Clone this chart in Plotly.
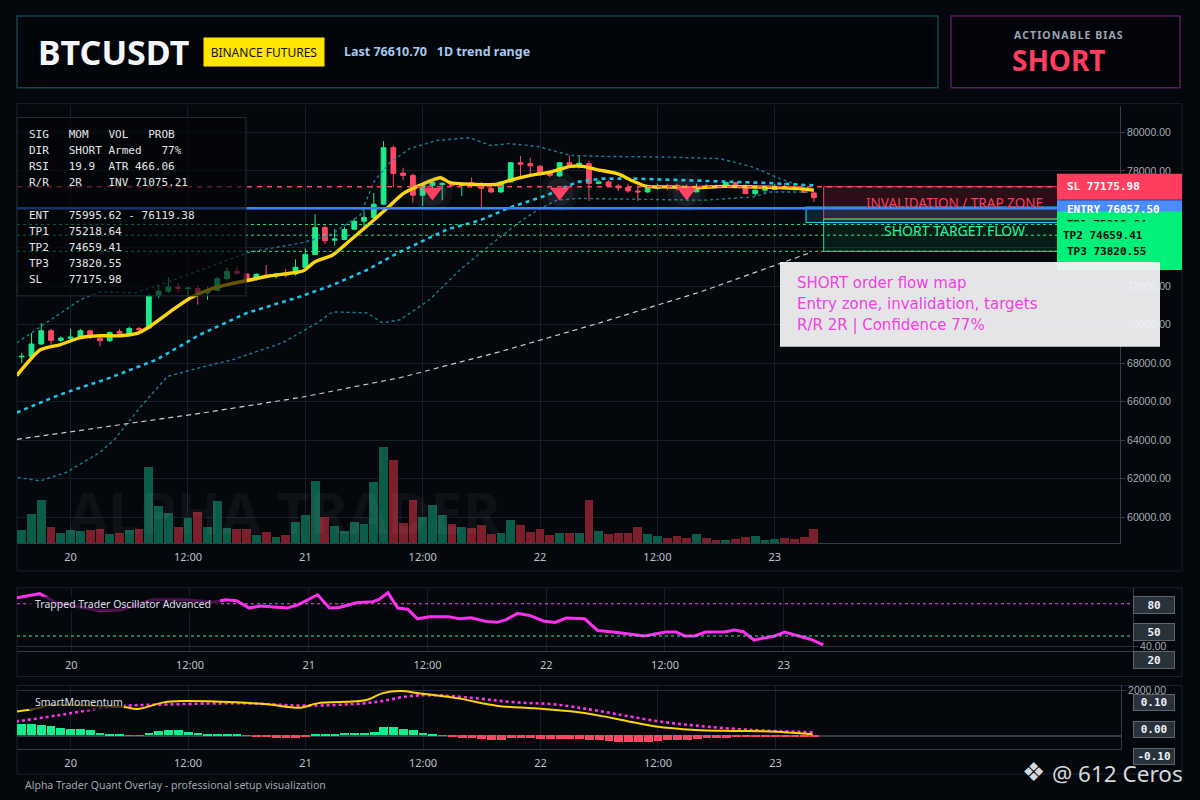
import plotly.graph_objects as go

# ---------------- data ----------------
# hourly candles, x = hours counted from the 20th 00:00
bar_hours = list(range(-5, 77))

opens = [68330, 68360, 69000, 69690, 69190, 69300, 69360, 69690, 69300, 69170,
         69650, 69430, 69810, 69830, 71530, 71750, 71960, 71890, 71890, 71650,
         71780, 72400, 72780, 72640, 72400, 72580, 72530, 72640, 72640, 72990,
         73660, 75060, 74400, 74440, 74970, 75390, 75580, 76270, 79210, 77890,
         77770, 76740, 77250, 77300, 77340, 77240, 77390, 77340, 77090, 76910,
         77430, 78430, 78380, 78250, 77900, 77740, 78430, 78330, 78380, 77350,
         77430, 77220, 77140, 76960, 76910, 77090, 77180, 77250, 77150, 76910,
         77210, 77220, 77260, 77390, 77250, 76820, 77000, 77040, 77170, 77170,
         77030, 76860]
highs = [68550, 69570, 70090, 69780, 69400, 69780, 69780, 69750, 69350, 69650,
         69780, 69900, 69900, 71640, 72060, 72470, 72160, 71960, 72060, 71990,
         72510, 72990, 73040, 72680, 72680, 73110, 72710, 72900, 73400, 73970,
         75750, 75170, 74990, 75100, 75530, 75960, 76850, 79550, 79330, 78170,
         77860, 77340, 77600, 77430, 77430, 77430, 77660, 77430, 77200, 77480,
         78470, 78780, 78690, 78300, 77990, 78470, 78810, 78760, 78520, 77520,
         77520, 77310, 77340, 77250, 77250, 77340, 77340, 77340, 77300, 77340,
         77340, 77300, 77430, 77430, 77300, 77090, 77170, 77340, 77380, 77250,
         77090, 76900]
lows = [68030, 68300, 68950, 68960, 69100, 69250, 69260, 69260, 68880, 69100,
        69500, 69400, 69660, 69800, 71400, 71640, 71700, 71470, 71050, 71300,
        71780, 72300, 72620, 72250, 72300, 72500, 72400, 72450, 72560, 72990,
        73660, 74200, 74130, 74400, 74920, 74900, 75530, 76220, 77170, 77510,
        76340, 76170, 77100, 76480, 77200, 76700, 77130, 76040, 76830, 76850,
        77390, 77730, 77780, 77730, 77680, 77680, 78200, 78130, 76440, 77300,
        77170, 76960, 76870, 76440, 76870, 77030, 77000, 76960, 76950, 76910,
        77130, 77150, 77200, 77170, 76820, 76700, 76820, 77000, 77140, 76990,
        76860, 76390]
closes = [68360, 69000, 69690, 69190, 69310, 69360, 69690, 69480, 69170, 69600,
          69560, 69810, 69760, 71500, 71750, 71960, 71890, 71910, 71650, 71780,
          72400, 72780, 72680, 72330, 72630, 72560, 72640, 72600, 72990, 73660,
          75060, 74370, 74460, 74960, 75390, 75580, 76270, 79210, 77870, 77770,
          76740, 77250, 77400, 77340, 77240, 77340, 77250, 77090, 76910, 77430,
          78430, 78350, 78270, 77820, 77770, 78430, 78330, 78400, 77350, 77430,
          77220, 77120, 76960, 76910, 77090, 77160, 77160, 77090, 77090, 77200,
          77200, 77210, 77390, 77290, 76820, 77000, 77040, 77160, 77160, 77040,
          76880, 76610]
volumes = [1300, 2900, 4400, 1670, 1000, 1300, 1200, 1300, 1400, 900,
           1000, 1300, 1400, 7700, 3700, 3000, 1670, 2500, 3100, 1670,
           4300, 1570, 1400, 1400, 800, 1100, 600, 800, 2100, 2800,
           6300, 2600, 1700, 1200, 2100, 1900, 6200, 9700, 8400, 2000,
           4400, 2600, 3900, 2800, 1900, 1600, 1500, 1800, 900, 1000,
           2300, 1800, 1100, 1400, 800, 1000, 1000, 1000, 4400, 1200,
           900, 1000, 1000, 1600, 900, 700, 500, 700, 500, 900,
           500, 300, 300, 400, 600, 700, 300, 400, 500, 400,
           600, 1400]

ema_hours = [-5.5, -3.1, -1.1, 1.0, 3.0, 5.0, 6.9, 8.1, 10.2, 12.2, 14.3, 16.3, 18.3,
             20.4, 22.4, 23.8, 25.0, 26.8, 28.6, 30.6, 32.7, 34.0, 35.7, 37.8, 38.8,
             40.8, 43.6, 44.9, 47.0, 49.0, 51.1, 52.4, 53.8, 55.9, 57.5, 58.9, 61.3,
             64.0, 66.7, 69.8, 72.9, 74.6, 76.0]
ema_fast = [67360, 68700, 68960, 69330, 69430, 69430, 69570, 69910, 70690, 71380,
            71850, 72120, 72330, 72550, 72680, 72810, 73280, 73630, 74400, 75270,
            76220, 76820, 77250, 77650, 77390, 77310, 77310, 77510, 77770, 77940,
            78240, 78240, 78070, 77860, 77480, 77200, 77170, 77130, 77200, 77170,
            77130, 77080, 77000]

mid_hours = [-5.5, -1.1, 4.0, 8.8, 13.2, 18.0, 23.5, 26.8, 30.3, 33.7, 38.5, 41.9,
             44.9, 48.7, 51.8, 54.4, 57.9, 61.3, 64.7, 68.1, 71.5, 76.0]
ema_mid = [65440, 66370, 67240, 68190, 69480, 70610, 71470, 72070, 72850, 73800,
           74960, 75440, 76100, 76740, 77430, 77600, 77600, 77550, 77480, 77430,
           77370, 77250]

slow_hours = [-5.5, 3.0, 13.2, 23.5, 33.7, 43.9, 54.1, 64.4, 72.5, 75.8]
ema_slow = [64040, 64660, 65390, 66220, 67250, 68600, 70100, 71710, 73160, 73780]

bbu_hours = [-5.5, -2.1, 1.0, 3.0, 6.6, 9.1, 13.2, 18.3, 23.5, 26.5, 29.6, 31.1, 32.7,
             34.7, 37.5, 40.8, 42.9, 44.9, 47.7, 51.1, 54.4, 61.3, 66.4, 69.8, 72.5, 75.6]
bb_upper = [69070, 70260, 71300, 71710, 71660, 72070, 72850, 73780, 74250, 74660,
            75700, 77510, 78460, 79170, 79590, 79730, 79330, 79420, 79280, 78810,
            78760, 78720, 78640, 78200, 77600, 77080]
bbl_hours = [-5.4, -3.1, -0.4, 3.0, 4.5, 7.1, 9.9, 13.2, 16.6, 21.7, 25.2, 26.8, 30.3,
             31.9, 33.7, 36.7, 39.8, 42.9, 45.9, 47.7, 49.7, 51.8, 57.9, 64.7, 69.8,
             71.5, 75.6]
bb_lower = [62060, 61880, 62330, 63370, 64040, 65700, 67310, 67770, 68190, 69070,
            70100, 70670, 70620, 70100, 70260, 71300, 72850, 74150, 75340, 75960,
            76480, 76570, 76530, 76480, 76650, 76910, 76910]

signal_hours = [37, 50, 63]
signal_prices = [76910, 76910, 76910]

osc_hours = [-5.5, -3.2, -1.5, 2.9, 5.1, 8.2, 11.4, 14.4, 15.6, 16.7, 18.0, 19.1,
             21.8, 22.9, 24.9, 26.1, 27.1, 28.8, 30.5, 31.1, 32.0, 33.0, 34.0, 35.0,
             36.2, 38.1, 39.2, 40.4, 41.9, 43.0, 43.9, 45.1, 46.4, 47.7, 48.9, 50.0,
             51.9, 53.2, 55.0, 57.9, 60.1, 61.1, 62.0, 63.0, 64.1, 66.0, 67.0, 67.9,
             69.0, 71.1, 72.1, 74.7, 76.0]
osc_values = [85.6, 89.4, 81.0, 73.4, 74.4, 83.7, 83.7, 81.6, 83.7, 82.8, 76.0, 78.0,
              76.0, 79.0, 88.4, 76.0, 76.5, 81.0, 82.0, 84.0, 90.3, 76.0, 75.0, 66.0,
              68.0, 68.0, 66.0, 67.0, 63.6, 62.7, 65.0, 71.0, 69.0, 64.0, 62.6, 66.7,
              66.0, 55.0, 53.5, 50.0, 53.7, 53.7, 50.0, 50.0, 53.7, 53.7, 55.6, 54.0,
              46.2, 50.0, 53.7, 47.0, 41.6]
osc_levels = [80, 50, 20]

hist_values = [0.039, 0.039, 0.036, 0.033, 0.027, 0.024, 0.024, 0.017, 0.008, 0.005,
               0.001, -0.001, -0.001, 0.008, 0.015, 0.017, 0.017, 0.012, 0.008, 0.005,
               0.005, 0.005, 0.005, -0.003, -0.004, -0.007, -0.010, -0.010, -0.010, -0.006,
               0.005, 0.005, 0.005, 0.008, 0.008, 0.008, 0.012, 0.029, 0.029, 0.024,
               0.017, 0.008, 0.005, -0.003, -0.006, -0.010, -0.012, -0.016, -0.019, -0.019,
               -0.012, -0.012, -0.010, -0.013, -0.016, -0.013, -0.013, -0.013, -0.019, -0.019,
               -0.022, -0.024, -0.024, -0.024, -0.024, -0.022, -0.019, -0.017, -0.017, -0.015,
               -0.012, -0.012, -0.010, -0.008, -0.007, -0.007, -0.007, -0.007, -0.005, -0.005,
               -0.005, -0.005]
mom_hours = [-5.6, -3.4, -2.2, 0.9, 5.6, 6.8, 9.5, 11.5, 16.9, 20.1, 23.5, 25.2, 30.2,
             31.8, 33.7, 35.7, 39.6, 43.5, 47.4, 51.3, 54.0, 56.3, 59.8, 63.8, 67.7,
             71.5, 75.8]
mom_values = [1060, 1205, 1351, 1338, 1250, 1174, 1470, 1528, 1470, 1382, 1236, 1426,
              1572, 1868, 1969, 1868, 1647, 1325, 1205, 1060, 883, 689, 397, 247, 203,
              177, 57]
sig_hours = [-5.6, -1.5, 4.4, 10.3, 18.1, 23.9, 29.9, 31.8, 34.2, 36.8, 41.5, 45.5,
             49.4, 54.0, 59.8, 63.8, 69.6, 75.8]
sig_values = [618, 883, 1280, 1382, 1426, 1325, 1426, 1528, 1722, 1793, 1647, 1470,
              1382, 1086, 645, 442, 247, 146]
hist_levels = ["0.10", "0.00", "-0.10"]

tick_hours = [0, 12, 24, 36, 48, 60, 72]
tick_labels = ["20", "12:00", "21", "12:00", "22", "12:00", "23"]
price_ticks = [60000, 62000, 64000, 66000, 68000, 70000, 72000, 74000, 76000, 78000, 80000]
# these two labels sit under the SL/entry/TP tags on the right
hidden_price_ticks = [74000, 76000]

symbol = "BTCUSDT"
venue = "BINANCE FUTURES"
last_price = 76610.70
direction = "SHORT"
vol_state = "Armed"
prob = 77
rsi = 19.9
atr = 466.06
rr = "2R"
inv = 71075.21
sl = 77175.98
entry = 76057.50
entry_low, entry_high = 75995.62, 76119.38
tp1, tp2, tp3 = 75218.64, 74659.41, 73820.55
zone_split = 75500
entry_box_low = 75320
entry_box_start = 75.2
zone_start, zone_end = 77, 101

# ---------------- styling ----------------
W, H = 1200, 800
BG = "#04070b"
GRID = "#161f29"
AXIS = "#323d48"
TICK = "#a3abb5"
GREEN = "#1de98b"
RED = "#ff4a64"
SANS = "Noto Sans"
MONO = "DejaVu Sans Mono"
x_range = [-5.48, 107.3]


def px(x):
    return x / W


def py(y):
    return 1 - y / H


fig = go.Figure()

# bands and averages
fig.add_trace(go.Scatter(x=bbu_hours, y=bb_upper, mode="lines",
                         line=dict(color="#1b7d96", width=1.4, dash="dot")))
fig.add_trace(go.Scatter(x=bbl_hours, y=bb_lower, mode="lines",
                         line=dict(color="#1b7d96", width=1.4, dash="dot")))
fig.add_trace(go.Scatter(x=slow_hours, y=ema_slow, mode="lines",
                         line=dict(color="#c9ced4", width=1.2, dash="5px,4px")))
fig.add_trace(go.Scatter(x=mid_hours, y=ema_mid, mode="lines",
                         line=dict(color="#19c6ea", width=2.6, dash="4px,4px")))

fig.add_trace(go.Candlestick(
    x=bar_hours, open=opens, high=highs, low=lows, close=closes,
    increasing=dict(line=dict(color=GREEN, width=1), fillcolor=GREEN),
    decreasing=dict(line=dict(color=RED, width=1), fillcolor=RED),
    whiskerwidth=0, hoverinfo="skip"))

fig.add_trace(go.Scatter(x=ema_hours, y=ema_fast, mode="lines",
                         line=dict(color="#ffd60a", width=3.4, shape="spline", smoothing=0.6)))

# sell signals with a soft halo
for size, alpha in [(40, 0.07), (28, 0.10)]:
    fig.add_trace(go.Scatter(x=signal_hours, y=signal_prices, mode="markers",
                             marker=dict(size=size, color=f"rgba(150,150,170,{alpha})",
                                         line=dict(width=0))))
fig.add_trace(go.Scatter(x=signal_hours, y=signal_prices, mode="markers",
                         marker=dict(symbol="triangle-down", size=17, color="#ff4262",
                                     line=dict(width=0))))

vol_colors = ["#0b5c49" if c >= o else "#7c1f2b" for o, c in zip(opens, closes)]
fig.add_trace(go.Bar(x=bar_hours, y=volumes, marker=dict(color=vol_colors, line=dict(width=0)),
                     width=0.9, xaxis="x", yaxis="y2"))

# trapped trader oscillator
fig.add_trace(go.Scatter(x=osc_hours, y=osc_values, mode="lines", xaxis="x2", yaxis="y3",
                         line=dict(color="#ff2ff0", width=3)))

# smart momentum
hist_colors = ["#12ee8e" if v >= 0 else "#ff4563" for v in hist_values]
fig.add_trace(go.Bar(x=bar_hours, y=hist_values, marker=dict(color=hist_colors, line=dict(width=0)),
                     width=0.9, xaxis="x3", yaxis="y4"))
fig.add_trace(go.Scatter(x=sig_hours, y=sig_values, mode="lines", xaxis="x3", yaxis="y5",
                         line=dict(color="#ff33ee", width=2.6, dash="3px,3px", shape="spline")))
fig.add_trace(go.Scatter(x=mom_hours, y=mom_values, mode="lines", xaxis="x3", yaxis="y5",
                         line=dict(color="#ffd400", width=2, shape="spline")))

# ---------------- shapes ----------------
shapes = []


def frame(x0, y0, x1, y1, color, fill="rgba(0,0,0,0)", width=1, layer="below"):
    shapes.append(dict(type="rect", xref="paper", yref="paper", x0=px(x0), x1=px(x1),
                       y0=py(y1), y1=py(y0), line=dict(color=color, width=width),
                       fillcolor=fill, layer=layer))


frame(17, 15, 938, 87, "#12434e", fill="#02050a", width=1.5)
frame(951, 15, 1180, 87, "#5a1b5c", fill="#02040a", width=1.5)
frame(17, 103, 1182, 572, "#17212b")
frame(17, 589, 1182, 678, "#1b2530")
frame(17, 687, 1182, 776, "#1b2530")

# trade zones
shapes.append(dict(type="rect", xref="x", yref="y", x0=zone_start, x1=zone_end, y0=zone_split, y1=sl,
                   line=dict(color="#ff3b5c", width=1), fillcolor="rgba(255,59,92,0.16)", layer="above"))
shapes.append(dict(type="rect", xref="x", yref="y", x0=zone_start, x1=zone_end, y0=tp3, y1=zone_split,
                   line=dict(color="#19e68c", width=1), fillcolor="rgba(25,230,140,0.10)", layer="above"))
shapes.append(dict(type="rect", xref="x", yref="y", x0=entry_box_start, x1=zone_end, y0=entry_box_low,
                   y1=entry_high, line=dict(color="#18c8ee", width=1.2),
                   fillcolor="rgba(24,200,238,0.16)", layer="above"))

# level lines
for level, color, width, dash in [(sl, "#ff4060", 1.6, "5px,5px"), (entry, "#3d7fff", 2.5, "solid"),
                                  (tp1, "#1ee890", 1, "dot"), (tp2, "#1ee890", 1, "dot"),
                                  (tp3, "#1ee890", 1, "dot")]:
    shapes.append(dict(type="line", xref="x", yref="y", x0=x_range[0], x1=zone_end, y0=level, y1=level,
                       line=dict(color=color, width=width, dash=dash), layer="above"))

# oscillator levels
shapes.append(dict(type="line", xref="x2 domain", yref="y3", x0=0, x1=1, y0=osc_levels[0], y1=osc_levels[0],
                   line=dict(color="#ff4df5", width=1, dash="dot"), layer="above"))
shapes.append(dict(type="line", xref="x2 domain", yref="y3", x0=0, x1=1, y0=osc_levels[1], y1=osc_levels[1],
                   line=dict(color="#2af0a8", width=1, dash="dot"), layer="above"))

# info panel + panel titles (dim what is behind)
frame(17, 117, 246, 296, "#252d35", fill="rgba(3,5,8,0.62)", layer="above")
frame(29, 598, 220, 613, "rgba(0,0,0,0)", fill="rgba(6,8,12,0.72)", width=0, layer="above")
frame(29, 697, 124, 712, "rgba(0,0,0,0)", fill="rgba(6,8,12,0.72)", width=0, layer="above")

# price labels on the right
for anchor, lo, hi, color in [(sl, -13, 13, "#ff3d5e"), (entry, -3.7, 8, "#4a8cff"),
                              (tp2, -34.7, 23.6, "#00f07a")]:
    shapes.append(dict(type="rect", xref="paper", yref="y", ysizemode="pixel", yanchor=anchor,
                       x0=px(1057), x1=px(1182), y0=lo, y1=hi, line=dict(width=0),
                       fillcolor=color, layer="above"))

# callout box
frame(780, 262, 1160, 347, "rgba(0,0,0,0)", fill="rgba(243,243,246,0.94)", width=0, layer="above")

# ---------------- annotations ----------------
notes = []


def note(text, x, y, size=11, color="#e6e6e6", family=SANS, xanchor="left", bold=False,
         yref="paper", **kw):
    notes.append(dict(text=text, x=px(x), y=(py(y) if yref == "paper" else y), xref="paper", yref=yref,
                      showarrow=False, xanchor=xanchor, yanchor="middle",
                      font=dict(family=family, size=size, color=color,
                                weight="bold" if bold else "normal"), **kw))


def nb(s):
    return s.replace(" ", "\u00a0")


def spaced(s):
    return "\u200a".join(nb(s))


note("ALPHA TRADER", 285, 512, size=58, color="rgba(255,255,255,0.045)", xanchor="center", bold=True)

note(symbol, 36, 51, size=34, color="#f3f6fa", bold=True)
note(venue, 264, 51, size=12, color="#141414", xanchor="center", bgcolor="#ffe500",
     width=120, height=28, borderpad=0)
note(nb(f"Last {last_price:.2f}   1D trend range"), 342, 51, size=12.5, color="#a9c7ee", bold=True)
note(spaced("ACTIONABLE BIAS"), 1012, 34, size=10.5, color="#9ba5b3", bold=True)
note(direction, 1010, 59, size=28, color="#ff3d5e", bold=True)

info_rows = [
    f"{'SIG':<6}{'MOM':<6}{'VOL':<6}PROB",
    f"{'DIR':<6}{direction:<6}{vol_state:<8}{prob}%",
    f"{'RSI':<6}{str(rsi):<6}ATR {atr:.2f}",
    f"{'R/R':<6}{rr:<6}INV {inv:.2f}",
    "",
    f"{'ENT':<6}{entry_low:.2f} - {entry_high:.2f}",
    f"{'TP1':<6}{tp1:.2f}",
    f"{'TP2':<6}{tp2:.2f}",
    f"{'TP3':<6}{tp3:.2f}",
    f"{'SL':<6}{sl:.2f}",
]
for i, row in enumerate(info_rows):
    if row:
        note(nb(row), 27, 134 + i * 16.2, size=11, color="#e4e6e8", family=MONO)

note(nb("INVALIDATION / TRAP ZONE"), 954, (sl + zone_split) / 2, size=13.5, color="#ff3b5c",
     xanchor="center", yref="y")
note(nb("SHORT TARGET FLOW"), 954, (zone_split + tp3) / 2, size=14, color="#22f59a",
     xanchor="center", yref="y", yshift=5)

note(nb(f"SL {sl:.2f}"), 1065, sl, size=11, color="#ffffff", family=MONO, bold=True, yref="y")
note(nb(f"ENTRY {entry:.2f}"), 1065, entry, size=11, color="#ffffff", family=MONO, bold=True,
     yref="y", yshift=-1)
note(nb(f"TP1 {tp1:.2f}"), 1065, tp1, size=11, color="#0a0a0a", family=MONO, bold=True, yref="y")
note(nb(f"TP2 {tp2:.2f}"), 1062, tp2, size=11, color="#0a0a0a", family=MONO, bold=True, yref="y",
     bgcolor="#00f07a", height=26, width=116, borderpad=0, align="left")
note(nb(f"TP3 {tp3:.2f}"), 1065, tp3, size=11, color="#0a0a0a", family=MONO, bold=True, yref="y")

callout = [f"{direction} order flow map", "Entry zone, invalidation, targets",
           f"R/R {rr} | Confidence {prob}%"]
for i, line in enumerate(callout):
    note(line, 795, 283.5 + i * 21, size=15, color="#f23ee2", family="DejaVu Sans")

note("Trapped Trader Oscillator Advanced", 33, 605.5, size=10.5, color="#d9dde2")
note("SmartMomentum", 33, 704, size=10.5, color="#d9dde2")

for lab, yy in zip(osc_levels, [606, 633.5, 661.5]):
    note(str(lab), 1154, yy, size=11, color="#eef2f6", family=MONO, bold=True, xanchor="center",
         bgcolor="#29313b", bordercolor="#5b6570", borderwidth=1, width=40, height=16, borderpad=0)
for lab, yy in zip(hist_levels, [704, 731.5, 758]):
    note(lab, 1154, yy, size=11, color="#eef2f6", family=MONO, bold=True, xanchor="center",
         bgcolor="#29313b", bordercolor="#5b6570", borderwidth=1, width=40, height=15, borderpad=0)

note("Alpha Trader Quant Overlay - professional setup visualization", 23, 787, size=10.5,
     color="#9ea5ad")
note("\u2756", 1020, 774, size=26, color="#d4d8dc", family="DejaVu Sans")
note("@ 612 Ceros", 1050, 775, size=22.5, color="#d4d8dc")

# ---------------- axes ----------------
price_text = ["" if v in hidden_price_ticks else f"{v:.2f}" for v in price_ticks]

xcommon = dict(range=x_range, tickvals=tick_hours, ticktext=tick_labels, showgrid=True,
               gridcolor=GRID, zeroline=False, showline=True, linecolor=AXIS,
               ticks="outside", ticklen=4, tickcolor="rgba(0,0,0,0)",
               tickfont=dict(family=SANS, size=11, color="#b9c1ca"), fixedrange=True)
ycommon = dict(side="right", zeroline=False, showline=True, linecolor=AXIS, ticks="outside",
               ticklen=4, tickcolor=AXIS, tickfont=dict(family="Liberation Sans", size=10.5, color=TICK),
               fixedrange=True)

fig.update_layout(
    width=W, height=H, margin=dict(l=0, r=0, t=0, b=0),
    paper_bgcolor=BG, plot_bgcolor="rgba(0,0,0,0)",
    showlegend=False, hovermode=False, bargap=0,
    xaxis=dict(domain=[px(17), px(1120)], anchor="y", rangeslider=dict(visible=False), **xcommon),
    yaxis=dict(domain=[py(544), py(105)], range=[58654, 81399], anchor="x", tickvals=price_ticks,
               ticktext=price_text, showgrid=True, gridcolor=GRID, **ycommon),
    yaxis2=dict(domain=[py(544), py(105)], overlaying="y", range=[0, 43900], visible=False,
                fixedrange=True),
    xaxis2=dict(domain=[px(17), px(1133)], anchor="y3", **xcommon),
    yaxis3=dict(domain=[py(652), py(589)], range=[36.4, 94.9], anchor="x2", tickvals=[40],
                tickformat=".2f", showgrid=True, gridcolor="#26313c", **ycommon),
    xaxis3=dict(domain=[px(17), px(1121)], anchor="y4", **xcommon),
    yaxis4=dict(domain=[py(751), py(687)], range=[-0.05, 0.183], anchor="x3", showticklabels=False,
                showgrid=False, side="right", zeroline=True, zerolinecolor="#2f3a46",
                showline=True, linecolor=AXIS, fixedrange=True),
    yaxis5=dict(overlaying="y4", anchor="x3", range=[-605, 2221], tickvals=[2000], tickformat=".2f",
                showgrid=True, gridcolor="#26313c", side="right", zeroline=False, showline=False,
                ticks="outside", ticklen=4, tickcolor=AXIS,
                tickfont=dict(family="Liberation Sans", size=10.5, color=TICK), fixedrange=True),
    shapes=shapes,
    annotations=notes,
)

fig.write_html("out.html", config={"displayModeBar": False},
               post_script="document.body.style.margin='0';document.body.style.overflow='hidden';"
                           "document.body.style.background='#04070b';")
